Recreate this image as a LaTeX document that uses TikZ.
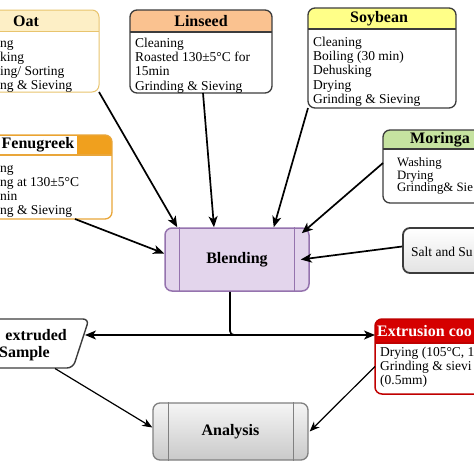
\documentclass[tikz,border=0pt]{standalone}
\usepackage{fontspec}
\setmainfont{Liberation Serif}
\usetikzlibrary{arrows.meta,calc}
\definecolor{oatH}{HTML}{FDEFC6}
\definecolor{oatB}{HTML}{E8C46E}
\definecolor{linH}{HTML}{FAC290}
\definecolor{soyH}{HTML}{FFFF88}
\definecolor{darkB}{HTML}{3C3C3C}
\definecolor{fenH}{HTML}{F0A01E}
\definecolor{fenB}{HTML}{E9A63A}
\definecolor{morH}{HTML}{C6E3A0}
\definecolor{extH}{HTML}{D50000}
\definecolor{extB}{HTML}{C00000}
\definecolor{blendF}{HTML}{E3D5EC}
\definecolor{blendB}{HTML}{9573AE}
\definecolor{anaB}{HTML}{808080}
\newcommand\mkbox[9]{%
  \node[inner sep=0pt, outer sep=0pt, minimum width=#4pt, minimum height=#5pt,
        fill=white, rounded corners=7pt] (#1) at (#2,#3) {};
  \begin{scope}
    \clip[rounded corners=7pt] (#1.north west) rectangle (#1.south east);
    \fill[#7] (#1.north west) rectangle ($(#1.north east)+(0,#6)$);
  \end{scope}
  \draw[#8, line width=#9pt] ($(#1.north west)+(0,#6)$) -- ($(#1.north east)+(0,#6)$);
  \draw[#8, line width=#9pt, rounded corners=7pt] (#1.north west) rectangle (#1.south east);
}
\tikzset{
  ttl/.style={font=\bfseries\fontsize{16}{18}\selectfont, inner sep=0pt},
  bodytxt/.style={font=\fontsize{13.5}{14.3}\selectfont, align=left, anchor=north west, inner sep=0pt},
  flow/.style={line width=1.7pt, -{Stealth[length=11pt,width=9pt,inset=3pt]}},
  thinflow/.style={line width=1.2pt, -{Stealth[length=10pt,width=8pt,inset=3pt]}},
}
\begin{document}
\begin{tikzpicture}[x=1pt,y=-1pt]
\clip (0,0) rectangle (474,474);
\fill[white] (0,0) rectangle (474,474);

% Oat
\mkbox{oat}{26}{51}{146}{82}{21}{oatH}{oatB}{1}
\node[ttl] (oatT) at (26,21) {Oat};
\node[bodytxt, font=\fontsize{13.5}{14}\selectfont] (oatL) at (0,37) {\strut ng\\king\\ing/ Sorting\\ng \& Sieving};

% Linseed
\mkbox{lin}{201}{51.5}{142}{83}{22}{linH}{darkB}{1.3}
\node[ttl] (linT) at (201,21) {Linseed};
\node[bodytxt] (linL) at (135,37) {\strut Cleaning\\Roasted 130±5°C for\\15min\\Grinding \& Sieving};

% Soybean
\mkbox{soy}{382}{58}{148}{100}{21}{soyH}{darkB}{1.3}
\node[ttl] (soyT) at (379,19) {Soybean};
\node[bodytxt] (soyL) at (313,36) {\strut Cleaning\\Boiling (30 min)\\Dehusking\\Drying\\Grinding \& Sieving};

% Fenugreek
\mkbox{fen}{36}{177}{152}{84}{20}{fenH}{fenB}{1.3}
\fill[white] (-40,136) rectangle (77,154.4);
\node[ttl] (fenT) at (38,145) {Fenugreek};
\node[bodytxt, font=\fontsize{13.5}{14}\selectfont] (fenL) at (0,162) {\strut ng\\ng at 130±5°C\\nin\\ng \& Sieving};

% Moringa
\mkbox{mor}{451.5}{166.5}{137}{73}{19}{morH}{darkB}{1.3}
\node[ttl] (morT) at (440,140) {Moringa};
\node[bodytxt, font=\fontsize{12.8}{12}\selectfont] (morL) at (397,157) {\strut Washing\\Drying\\Grinding\& Sie};

% Blending
\node[draw=blendB, fill=blendF, line width=1.5pt, rounded corners=7pt, minimum width=144pt,
      minimum height=63pt, inner sep=0pt, font=\bfseries\fontsize{16}{18}\selectfont] (blend) at (237,259.5) {Blending};
\draw[blendB, line width=1.3pt] ([xshift=15pt]blend.north west) -- ([xshift=15pt]blend.south west);
\draw[blendB, line width=1.3pt] ([xshift=-15pt]blend.north east) -- ([xshift=-15pt]blend.south east);

% Salt
\node[draw=darkB, line width=1.8pt, rounded corners=7pt, top color=white, bottom color=gray!22,
      minimum width=117pt, minimum height=45pt, inner sep=0pt] (salt) at (461.5,250.5) {};
\node[font=\fontsize{13.5}{15}\selectfont, anchor=west, inner sep=0pt] (saltT) at (411,252) {Salt and Su};

% Extruded sample
\draw[darkB, line width=1.4pt, rounded corners=6pt, fill=white] (-20,319) -- (89,319) -- (73,368) -- (-20,368) -- cycle;
\coordinate (exr) at (85,335);
\coordinate (exb) at (55,368.5);
\node[ttl, anchor=east] (ext1) at (67,335) {extruded};
\node[ttl, anchor=east] (ext2) at (50,354) {Sample};

% Extrusion cooking
\mkbox{extr}{447.5}{356.5}{145}{75}{24}{extH}{extB}{1.5}
\node[ttl, anchor=west, text=white] (extrT) at (377,331) {Extrusion coo};
\node[bodytxt] (extrL) at (380,346) {\strut Drying (105°C, 1\\Grinding \& sievi\\(0.5mm)};

% Analysis
\node[draw=anaB, line width=1.3pt, rounded corners=7pt, top color=gray!8, bottom color=gray!42,
      minimum width=155pt, minimum height=57pt, inner sep=0pt,
      font=\bfseries\fontsize{16}{18}\selectfont] (ana) at (230.5,431.5) {Analysis};
\draw[anaB, line width=1.2pt] ([xshift=16pt]ana.north west) -- ([xshift=16pt]ana.south west);
\draw[anaB, line width=1.2pt] ([xshift=-15pt]ana.north east) -- ([xshift=-15pt]ana.south east);

% Connectors
\draw[flow] (oat.south east) -- ([xshift=13pt]blend.north west);
\draw[flow] ([xshift=2pt]lin.south) -- ([xshift=-23pt]blend.north);
\draw[flow] (soy.south west) -- ([xshift=-36pt]blend.north east);
\draw[flow] ([yshift=-33pt]mor.north west) -- ([xshift=-8pt,yshift=-6pt]blend.north east);
\draw[flow] ([xshift=-37pt]fen.south east) -- ([yshift=6pt]blend.west);
\draw[flow] ([yshift=4pt]salt.west) -- ([xshift=-9pt]blend.east);
\coordinate (junc) at (237,335);
\draw[line width=1.7pt, rounded corners=4pt] ([xshift=-7pt]blend.south) |- (junc);
\draw[line width=1.7pt, {Stealth[length=11pt,width=9pt,inset=3pt]}-{Stealth[length=11pt,width=9pt,inset=3pt]}] (exr) -- (exr -| extr.west);
\draw[thinflow] (exb) -- ([yshift=4pt]ana.west);
\draw[thinflow] ([yshift=-10pt]extr.west) -- ([xshift=1pt]ana.east);
\end{tikzpicture}
\end{document}
